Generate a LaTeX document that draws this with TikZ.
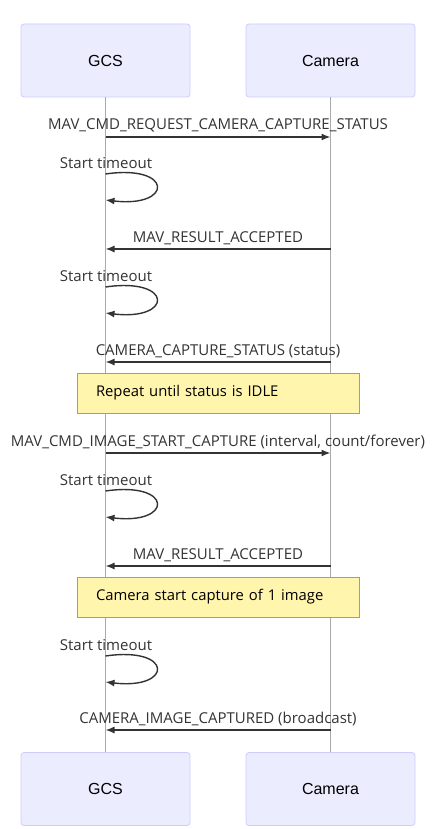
\documentclass[tikz,border=0pt]{standalone}
\usepackage{fontspec}
\setmainfont{Open Sans}
\newfontfamily\actorfont{Liberation Sans}
\usetikzlibrary{arrows.meta,positioning}
\definecolor{actorfill}{HTML}{ECECFF}
\definecolor{actorline}{HTML}{CCCCFF}
\definecolor{notefill}{HTML}{FFF5AD}
\definecolor{noteline}{HTML}{AAAA33}
\definecolor{msgcol}{HTML}{333333}
\definecolor{lifecol}{HTML}{AAAAAA}

\begin{document}
\begin{tikzpicture}[x=1pt,y=-1pt,
    actor/.style={draw=actorline,fill=actorfill,rounded corners=3pt,line width=0.8pt,
      minimum width=169pt,minimum height=73pt,inner sep=0pt,
      font=\actorfont\fontsize{16}{19}\selectfont},
    note/.style={draw=noteline,fill=notefill,line width=0.8pt,minimum height=40pt,
      text width=244pt,inner xsep=19pt,inner ysep=0pt,align=left,
      font=\fontsize{14.8}{17}\selectfont},
    msg/.style={draw=msgcol,line width=1.4pt,-{Latex[length=9pt,width=7pt]}},
    msglabel/.style={text=msgcol,inner sep=0pt,anchor=base,font=\fontsize{15}{18}\selectfont},
    lifeline/.style={draw=lifecol,line width=0.8pt}]
    \useasboundingbox (0,0) rectangle (431,829);
    % actors
    \node[actor] (gcstop) at (105.5,60.5) {GCS};
    \node[actor] (camtop) at (330.5,60.5) {Camera};
    \node[actor] (gcsbot) at (105.5,789) {GCS};
    \node[actor] (cambot) at (330.5,789) {Camera};
    \draw[lifeline] (gcstop) -- (gcsbot);
    \draw[lifeline] (camtop) -- (cambot);
    % request capture status
    \coordinate (g1) at (105.5,137);
    \coordinate (c1) at (330.5,137);
    \node[msglabel] (m1) at (218,130) {MAV\_CMD\_REQUEST\_CAMERA\_CAPTURE\_STATUS};
    \draw[msg] (g1) -- (c1);
    \coordinate (t1s) at (105.5,174);
    \coordinate (t1e) at (105.5,200);
    \node[msglabel] (l1) at (106,168) {Start timeout};
    \draw[msg] (t1s) .. controls +(68,-10) and +(68,8) .. (t1e);
    \coordinate (c2) at (330.5,249);
    \coordinate (g2) at (105.5,249);
    \node[msglabel] (m2) at (218,242) {MAV\_RESULT\_ACCEPTED};
    \draw[msg] (c2) -- (g2);
    \coordinate (t2s) at (105.5,287);
    \coordinate (t2e) at (105.5,313);
    \node[msglabel] (l2) at (106,281) {Start timeout};
    \draw[msg] (t2s) .. controls +(68,-10) and +(68,8) .. (t2e);
    \coordinate (c3) at (330.5,362);
    \coordinate (g3) at (105.5,362);
    \node[msglabel] (m3) at (218,355) {CAMERA\_CAPTURE\_STATUS (status)};
    \draw[msg] (c3) -- (g3);
    \node[note] (n1) at (218,393) {Repeat until status is IDLE};
    % start capture
    \coordinate (g4) at (105.5,453);
    \coordinate (c4) at (330.5,453);
    \node[msglabel] (m4) at (218,446) {MAV\_CMD\_IMAGE\_START\_CAPTURE (interval, count/forever)};
    \draw[msg] (g4) -- (c4);
    \coordinate (t3s) at (105.5,491);
    \coordinate (t3e) at (105.5,517);
    \node[msglabel] (l3) at (106,485) {Start timeout};
    \draw[msg] (t3s) .. controls +(68,-10) and +(68,8) .. (t3e);
    \coordinate (c5) at (330.5,566);
    \coordinate (g5) at (105.5,566);
    \node[msglabel] (m5) at (218,559) {MAV\_RESULT\_ACCEPTED};
    \draw[msg] (c5) -- (g5);
    \node[note] (n2) at (218,597) {Camera start capture of 1 image};
    \coordinate (t4s) at (105.5,656);
    \coordinate (t4e) at (105.5,682);
    \node[msglabel] (l4) at (106,650) {Start timeout};
    \draw[msg] (t4s) .. controls +(68,-10) and +(68,8) .. (t4e);
    \coordinate (c6) at (330.5,730);
    \coordinate (g6) at (105.5,730);
    \node[msglabel] (m6) at (218,723) {CAMERA\_IMAGE\_CAPTURED (broadcast)};
    \draw[msg] (c6) -- (g6);
\end{tikzpicture}
\end{document}
